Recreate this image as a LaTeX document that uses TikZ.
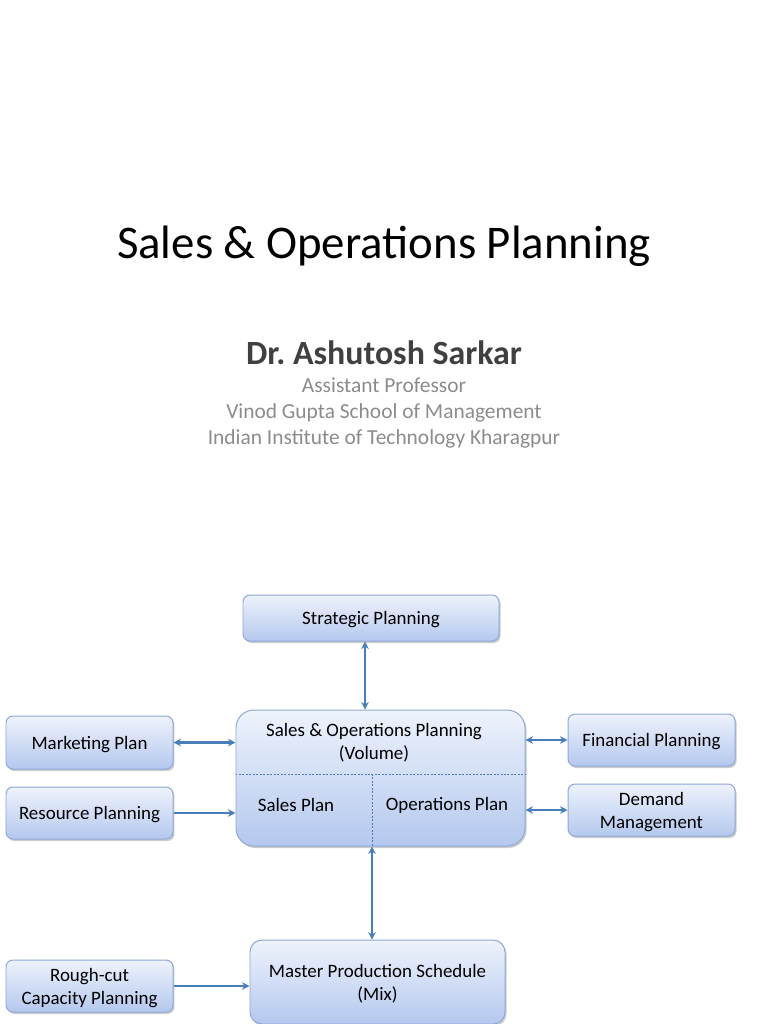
\documentclass[tikz,border=0pt]{standalone}
\usepackage{fontspec}
\setmainfont{Carlito}
\usetikzlibrary{arrows.meta,positioning,shadows}

\definecolor{boxline}{HTML}{8EA9D8}
\definecolor{boxtop}{HTML}{EEF3FC}
\definecolor{boxbot}{HTML}{B4C8EE}
\definecolor{linkblue}{HTML}{4A7EBB}
\definecolor{subgray}{HTML}{8C8C8C}
\definecolor{namegray}{HTML}{404040}

\begin{document}
\begin{tikzpicture}[x=1bp,y=-1bp,>=Stealth,
    plan/.style={draw=boxline,line width=1pt,rounded corners=7pt,
      top color=boxtop,bottom color=boxbot,
      drop shadow={opacity=0.4,shadow xshift=1.5pt,shadow yshift=-2pt},
      align=center,font=\fontsize{19}{23}\selectfont,text=black,inner sep=0pt,
      text depth=0pt},
    label/.style={font=\fontsize{19}{23}\selectfont,text=black,align=center},
    link/.style={draw=linkblue,line width=2.2bp,-{Stealth[length=7.5pt,width=7.5pt]}},
    both/.style={draw=linkblue,line width=2.2bp,{Stealth[length=7.5pt,width=7.5pt]}-{Stealth[length=7.5pt,width=7.5pt]}},
    split/.style={draw=linkblue,line width=0.6pt,dash pattern=on 2pt off 1.5pt}]

    % Page
    \fill [white] (0,0) rectangle (768,1024);
    \useasboundingbox (0,0) rectangle (768,1024);

    % Title block
    \node (title) at (384,246) {\fontsize{47}{52}\selectfont Sales \& Operations Planning};
    \node (name) [text=namegray,font=\fontsize{34}{38}\selectfont\bfseries] at (384,353) {Dr.\ Ashutosh Sarkar};
    \node (affil) [text=subgray,align=center,font=\fontsize{21.5}{26}\selectfont] at (384,413)
        {Assistant Professor\\Vinod Gupta School of Management\\Indian Institute of Technology Kharagpur};

    % Boxes
    \node (strat) [plan,minimum width=256bp,minimum height=46bp] at (371,618) {Strategic Planning};
    \node (sop) [plan,rounded corners=18pt,minimum width=289bp,minimum height=136bp] at (380.5,778) {};
    \node (mkt) [plan,minimum width=167bp,minimum height=53bp] at (89.5,742.5) {Marketing Plan};
    \node (res) [plan,minimum width=167bp,minimum height=52bp] at (89.5,813) {Resource Planning};
    \node (fin) [plan,minimum width=167bp,minimum height=52bp] at (651.5,740) {Financial Planning};
    \node (dem) [plan,minimum width=167bp,minimum height=52bp] at (651.5,810) {Demand\\Management};
    \node (rcp) [plan,minimum width=167bp,minimum height=52bp] at (89.5,986) {Rough-cut\\Capacity Planning};
    \node (mps) [plan,rounded corners=12pt,minimum width=255bp,minimum height=84bp] at (377.5,982) {Master Production Schedule\\(Mix)};

    % Inside the S&OP box
    \coordinate (cut) at (372,774);
    \draw [split] (sop.west |- cut) -- (sop.east |- cut);
    \draw [split] (cut) -- (cut |- sop.south);
    \node (soptext) [label] at (374,743) {Sales \& Operations Planning\\(Volume)};
    \node (salesplan) [label] at (296,805) {Sales Plan};
    \node (opsplan) [label] at (447,805) {Operations Plan};

    % Connectors
    \draw [both] ([xshift=-6bp]strat.south) -- ([xshift=-6bp]strat.south |- sop.north);
    \draw [both] (mkt.east) -- (sop.west |- mkt.east);
    \draw [link] (res.east) -- (sop.west |- res.east);
    \draw [both] (sop.east |- fin.west) -- (fin.west);
    \draw [both] (sop.east |- dem.west) -- (dem.west);
    \draw [both] (cut |- sop.south) -- (cut |- mps.north);
    \draw [link] (rcp.east) -- (mps.west |- rcp.east);

\end{tikzpicture}
\end{document}
